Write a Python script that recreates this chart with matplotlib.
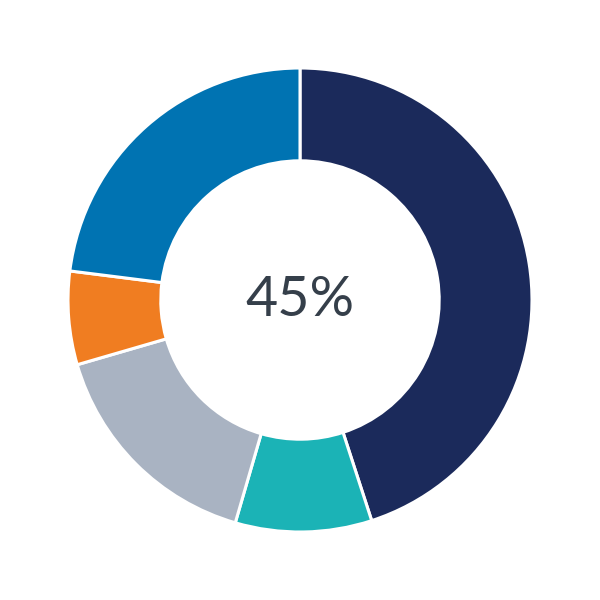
import matplotlib
matplotlib.use("Agg")
import matplotlib.pyplot as plt

labels = ["A", "B", "C", "D", "E"]
values = [45, 9.5, 16, 6.5, 23]
colors = ["#1b2a5b", "#1bb3b6", "#a9b3c2", "#f07d21", "#0073b2"]
center_label = "45%"

fig = plt.figure(figsize=(6, 6), dpi=100)
ax = fig.add_axes([0, 0, 1, 1])
ax.pie(values, colors=colors, startangle=90, counterclock=False,
       radius=1.0,
       wedgeprops=dict(width=0.4, edgecolor="white", linewidth=2.2))
ax.text(0, 0, center_label, ha="center", va="center", fontsize=40,
        family="Lato", color="#353f4a")
lim = 300 / 232
ax.set_xlim(-lim, lim)
ax.set_ylim(-lim, lim)
ax.set_aspect("equal")
ax.axis("off")
fig.savefig("out.png", dpi=100, facecolor="white")
